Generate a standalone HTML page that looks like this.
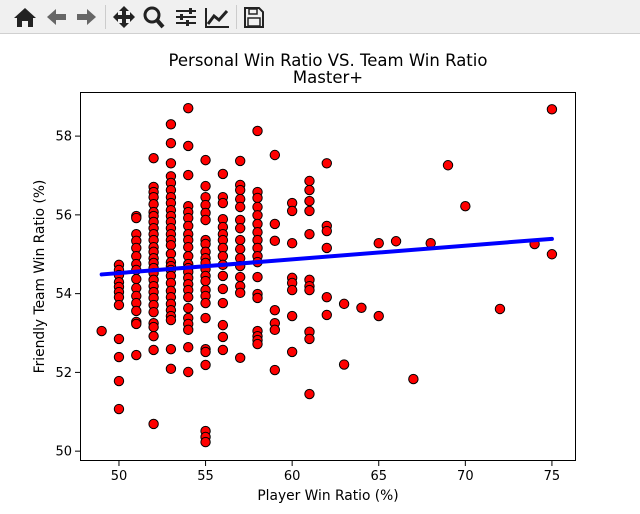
<!DOCTYPE html>
<html><head><meta charset="utf-8"><style>
body{margin:0;background:#fff;width:640px;height:514px;overflow:hidden;font-family:"DejaVu Sans","Liberation Sans",sans-serif}
#tb{position:absolute;left:0;top:0;width:640px;height:33px;background:#f0f0f0;border-bottom:1px solid #d0d0d0}
</style></head><body>
<div id="tb">
<svg width="280" height="33">
<g fill="#222">
<g><path d="M14 18 L25 8 L36 18 L33 18 L33 27 L28 27 L28 21 L22 21 L22 27 L17 27 L17 18Z"/></g>
<g fill="#666"><path d="M47 17 L56 9 L56 14 L66 14 L66 20 L56 20 L56 25Z"/></g>
<g fill="#666"><path d="M96 17 L87 9 L87 14 L77 14 L77 20 L87 20 L87 25Z"/></g>
<rect x="105" y="5" width="1" height="24" fill="#ccc"/>
<g><path d="M124 6 L129 11 L126 11 L126 15 L130 15 L130 12 L135 17 L130 22 L130 19 L126 19 L126 23 L129 23 L124 28 L119 23 L122 23 L122 19 L118 19 L118 22 L113 17 L118 12 L118 15 L122 15 L122 11 L119 11Z"/></g>
<g><circle cx="152" cy="15" r="7" fill="none" stroke="#222" stroke-width="3"/><path d="M156 19 L163 27" stroke="#222" stroke-width="4"/></g>
<g><rect x="176" y="10" width="20" height="2"/><rect x="176" y="16" width="20" height="2"/><rect x="176" y="22" width="20" height="2"/><rect x="189" y="8" width="3" height="6"/><rect x="180" y="14" width="3" height="6"/><rect x="186" y="20" width="3" height="6"/></g>
<g><path d="M206 8 L206 27 L229 27" fill="none" stroke="#222" stroke-width="2"/><path d="M208 24 L214 16 L219 20 L227 11" fill="none" stroke="#222" stroke-width="3"/></g>
<rect x="236" y="5" width="1" height="24" fill="#ccc"/>
<g><path d="M245 8 L259 8 L263 12 L263 27 L245 27Z" fill="none" stroke="#222" stroke-width="2"/><rect x="249" y="9" width="8" height="5" fill="none" stroke="#222" stroke-width="1.5"/><rect x="248" y="18" width="12" height="8" fill="none" stroke="#222" stroke-width="1.5"/></g>
</g></svg></div>
<svg id="chart" width="640" height="514" style="position:absolute;left:0;top:0;pointer-events:none"></svg>
<script>
const xs = [49,50,51,52,53,54,55,56,57,58,59,60,61,62,63,64,65,66,67,68,69,70,72,74,75];
const ysByX = [
[53.05],
[54.73,54.6,54.47,54.29,54.17,54.04,53.91,53.71,52.85,52.39,51.78,51.07],
[55.97,55.92,55.51,55.34,55.16,54.95,54.75,54.6,54.37,54.14,53.94,53.76,53.56,53.28,53.23,52.44],
[57.44,56.71,56.58,56.45,56.27,56.07,55.97,55.82,55.66,55.51,55.36,55.18,55.06,54.9,54.78,54.65,54.52,54.35,54.19,54.04,53.89,53.71,53.53,53.25,53.15,52.92,52.57,50.69],
[58.3,57.82,57.31,56.98,56.81,56.63,56.45,56.3,56.12,55.97,55.82,55.66,55.51,55.36,55.23,55.01,54.8,54.7,54.6,54.45,54.27,54.07,53.91,53.74,53.58,53.43,53.33,52.59,52.09],
[58.71,57.75,57.01,56.22,56.07,55.92,55.72,55.51,55.36,55.18,54.95,54.75,54.65,54.55,54.4,54.24,54.09,53.91,53.63,53.38,53.23,53.08,52.64,52.01],
[57.39,56.73,56.45,56.25,56.05,55.87,55.36,55.26,55.06,54.9,54.78,54.62,54.45,54.32,54.09,53.94,53.76,53.38,52.59,52.52,52.19,50.51,50.36,50.23],
[57.04,56.45,56.3,55.89,55.69,55.51,55.36,55.16,54.95,54.73,54.45,54.12,53.76,53.2,52.9,52.57],
[57.37,56.76,56.63,56.4,56.2,55.87,55.66,55.36,55.13,54.9,54.7,54.42,54.19,54.02,52.37],
[58.13,56.58,56.43,56.2,55.99,55.77,55.56,55.36,55.16,54.95,54.8,54.42,53.99,53.89,53.05,52.92,52.82,52.72],
[57.52,55.77,55.34,53.58,53.25,53.08,52.06],
[56.3,56.1,55.28,54.4,54.27,54.09,53.43,52.52],
[56.86,56.63,56.35,56.1,55.51,54.35,54.19,54.09,53.03,52.85,51.45],
[57.31,55.72,55.59,55.16,53.91,53.46],
[53.74,52.2],
[53.64],
[55.28,53.43],
[55.33],
[51.83],
[55.28],
[57.26],
[56.22],
[53.61],
[55.26],
[58.68,55.0]
];
const xTicks = [50,55,60,65,70,75];
const yTicks = [50,52,54,56,58];
const xDomain = [47.75,76.39];
const yDomain = [49.75,59.12];

const L=80,R=576,T=92,B=461;
const sx=v=>L+(v-xDomain[0])/(xDomain[1]-xDomain[0])*(R-L);
const sy=v=>B-(v-yDomain[0])/(yDomain[1]-yDomain[0])*(B-T);
const svg=document.getElementById('chart');
const NS='http://www.w3.org/2000/svg';
function mk(tag,attrs,parent){const e=document.createElementNS(NS,tag);for(const k in attrs)e.setAttribute(k,attrs[k]);(parent||svg).appendChild(e);return e;}

const pts=mk('g',{});


const all=[];
xs.forEach((x,i)=>ysByX[i].forEach(y=>{
  all.push([x,y]);
  const c=mk('circle',{cx:sx(x),cy:sy(y),r:4.7,fill:'#ff0000',stroke:'#000','stroke-width':1},pts);
  
  
}));
let n=all.length,mx=0,my=0;all.forEach(p=>{mx+=p[0];my+=p[1];});mx/=n;my/=n;
let sxy=0,sxx=0;all.forEach(p=>{sxy+=(p[0]-mx)*(p[1]-my);sxx+=(p[0]-mx)**2;});
const slope=sxy/sxx,icpt=my-slope*mx;
const x0=Math.min(...xs),x1=Math.max(...xs);
const ln=mk('line',{x1:sx(x0),y1:sy(icpt+slope*x0),x2:sx(x1),y2:sy(icpt+slope*x1),stroke:'#0000ff','stroke-width':4,'stroke-linecap':'round'});



const fr=mk('rect',{x:L+0.5,y:T+0.5,width:R-L-1,height:B-T-1,fill:'none',stroke:'#000','stroke-width':1});



xTicks.forEach(t=>{
  const X=sx(t);
  mk('line',{x1:X,y1:B,x2:X,y2:B+5,stroke:'#000'});
  const tx=mk('text',{x:X,y:B+19,'text-anchor':'middle','font-size':13,fill:'#000'});
  tx.textContent=t;
  
  
});
yTicks.forEach(t=>{
  const Y=sy(t);
  mk('line',{x1:L-5,y1:Y,x2:L,y2:Y,stroke:'#000'});
  const tx=mk('text',{x:L-8,y:Y+4.5,'text-anchor':'end','font-size':13,fill:'#000'});
  tx.textContent=t;
  
  
});
const xt=mk('text',{x:(L+R)/2,y:500,'text-anchor':'middle','font-size':13.8});
xt.textContent='Player Win Ratio (%)';


const yt=mk('text',{x:0,y:0,'text-anchor':'middle','font-size':13.8,transform:'translate(44,'+((T+B)/2)+') rotate(-90)'});
yt.textContent='Friendly Team Win Ratio (%)';


const t1=mk('text',{x:(L+R)/2,y:66,'text-anchor':'middle','font-size':16.5});
t1.textContent='Personal Win Ratio VS. Team Win Ratio';


const t2=mk('text',{x:(L+R)/2,y:83,'text-anchor':'middle','font-size':16.5});
t2.textContent='Master+';


</script>
</body></html>
